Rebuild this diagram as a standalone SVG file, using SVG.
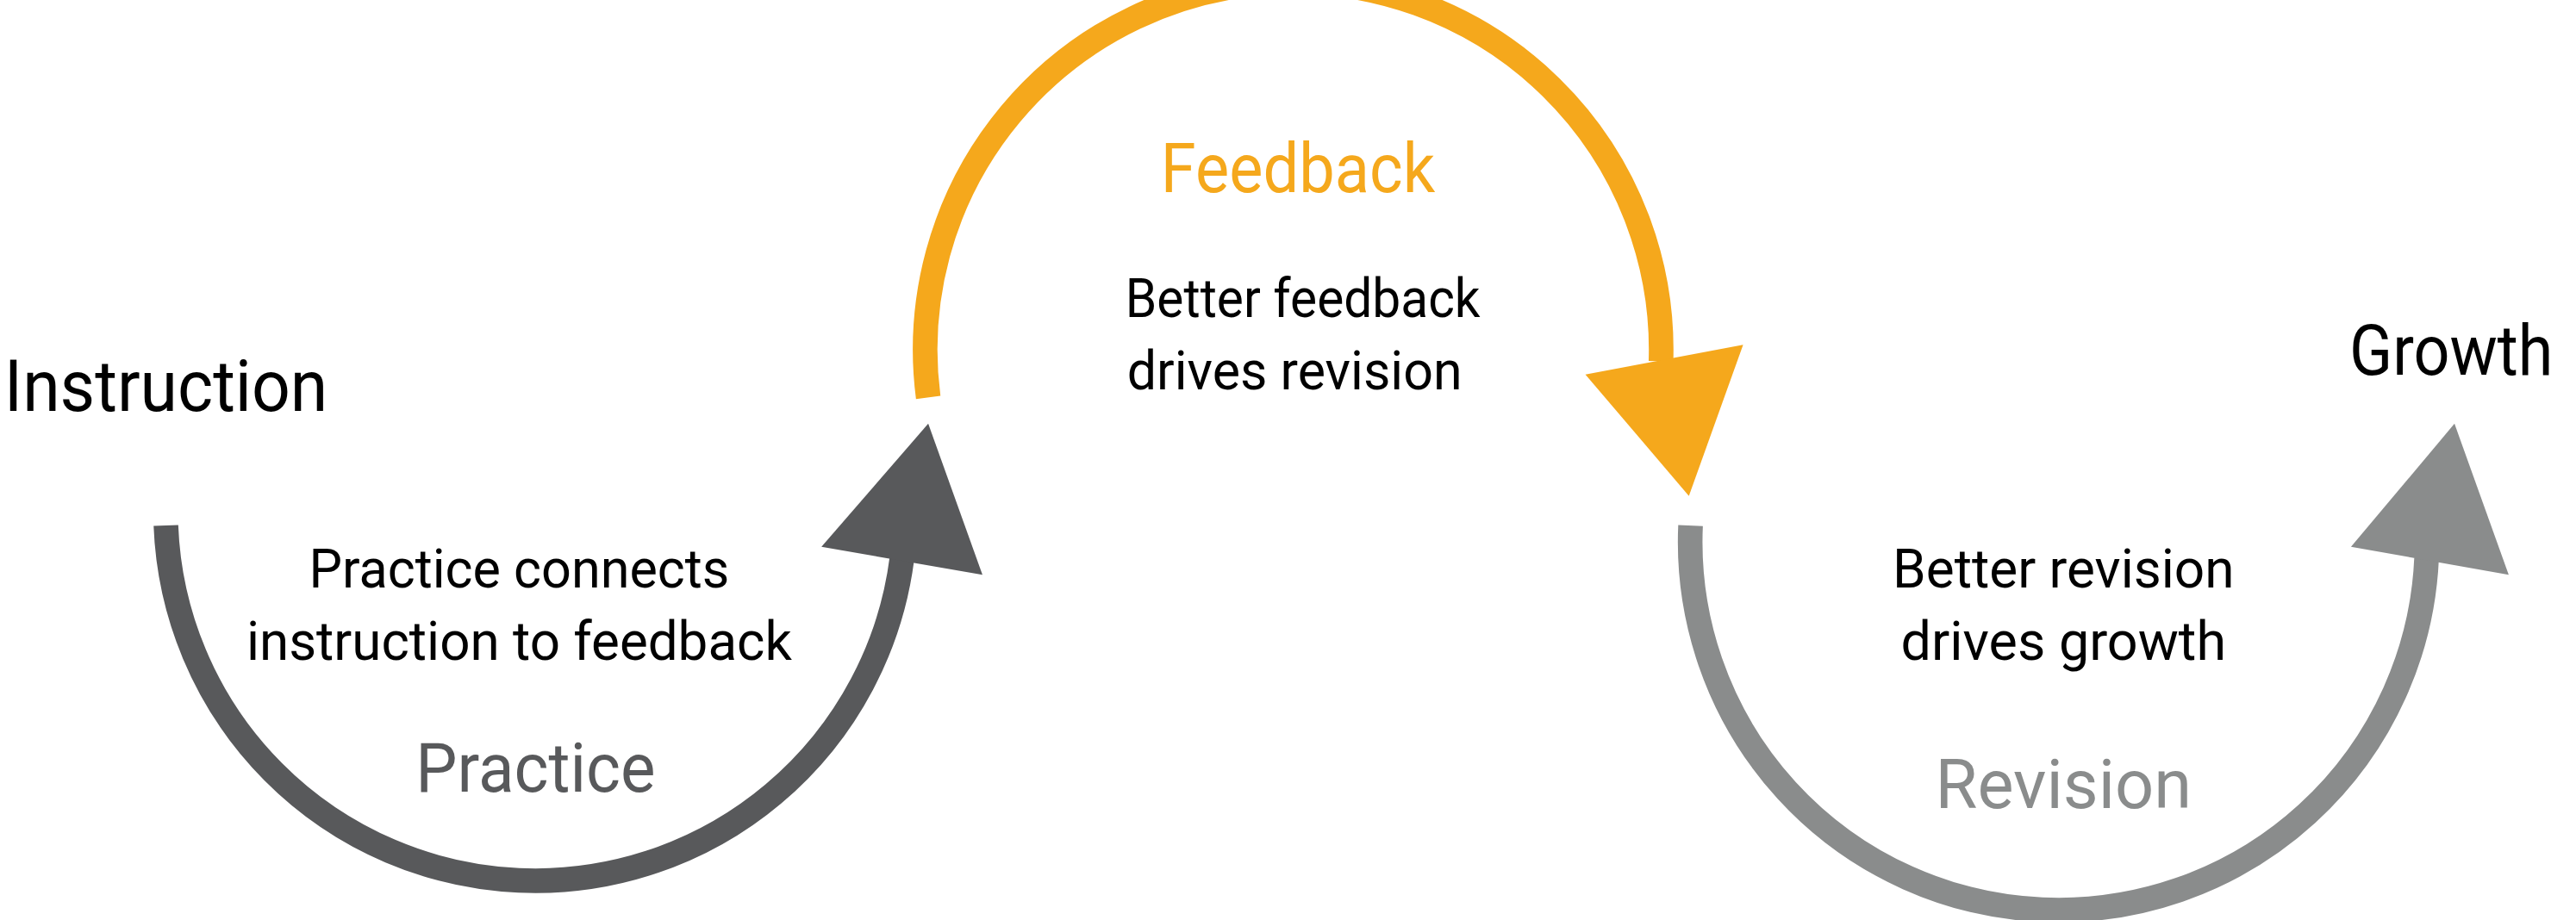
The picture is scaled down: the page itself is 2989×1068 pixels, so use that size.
<svg xmlns="http://www.w3.org/2000/svg" width="2989" height="1068" viewBox="0 0 2989 1068">
<style>
.t{font-family:Roboto,"Liberation Sans",sans-serif;text-anchor:middle}
.arc{fill:none;stroke-width:15}
</style>
<rect width="2989" height="1068" fill="#fff"/>
<g transform="scale(1.9063)">
<g id="connectors">
<path class="arc" stroke="#58595b" d="M101,320 A225,225 0 0 0 549,340"/>
<polygon fill="#58595b" points="565,258 500,333 598,350"/>
<path class="arc" stroke="#f5a81c" d="M565,242 A224,224 0 1 1 1011,220"/>
<polygon fill="#f5a81c" points="1028,302 965,228 1061,210"/>
<path class="arc" stroke="#8a8c8c" d="M1029,320 A224,224 0 0 0 1477,340"/>
<polygon fill="#8a8c8c" points="1494,258 1431,333 1527,350"/>
</g>
<g id="instruction"><text class="t" x="101" y="250" font-size="44" textLength="197" lengthAdjust="spacingAndGlyphs">Instruction</text></g>
<g id="growth"><text class="t" x="1492" y="228" font-size="43" textLength="124" lengthAdjust="spacingAndGlyphs">Growth</text></g>
<g id="practice">
<text class="t" x="316" y="358" font-size="33" textLength="256" lengthAdjust="spacingAndGlyphs">Practice connects</text>
<text class="t" x="316" y="402" font-size="33" textLength="332" lengthAdjust="spacingAndGlyphs">instruction to feedback</text>
<text class="t" x="326" y="482" font-size="42" fill="#58595b" textLength="146" lengthAdjust="spacingAndGlyphs">Practice</text>
</g>
<g id="feedback">
<text class="t" x="790" y="117" font-size="42" fill="#f5a81c" textLength="167" lengthAdjust="spacingAndGlyphs">Feedback</text>
<text class="t" x="793" y="193" font-size="33" textLength="216" lengthAdjust="spacingAndGlyphs">Better feedback</text>
<text class="t" x="788" y="237" font-size="33" textLength="204" lengthAdjust="spacingAndGlyphs">drives revision</text>
</g>
<g id="revision">
<text class="t" x="1256" y="358" font-size="33" textLength="208" lengthAdjust="spacingAndGlyphs">Better revision</text>
<text class="t" x="1256" y="402" font-size="33" textLength="198" lengthAdjust="spacingAndGlyphs">drives growth</text>
<text class="t" x="1256" y="492" font-size="42" fill="#8a8c8c" textLength="156" lengthAdjust="spacingAndGlyphs">Revision</text>
</g>
</g>
</svg>
